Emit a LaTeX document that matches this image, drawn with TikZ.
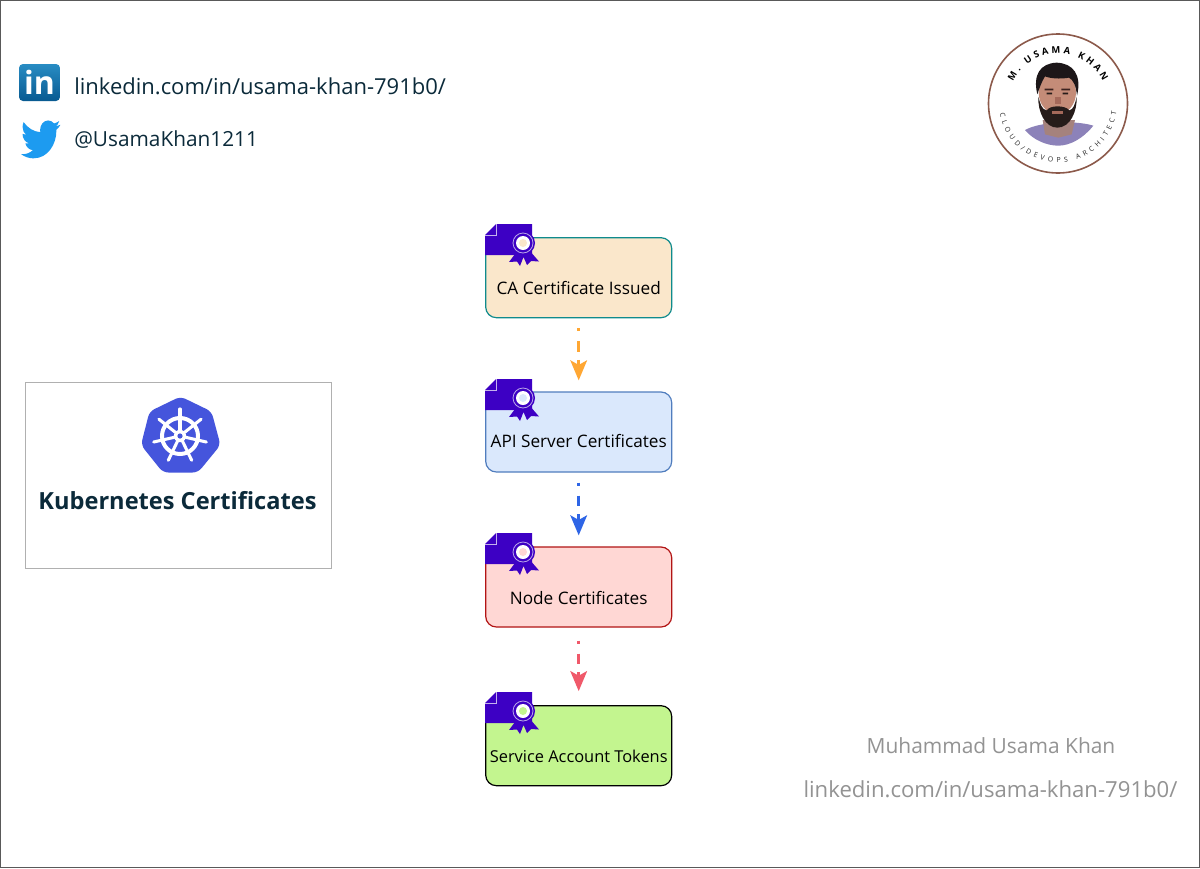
\documentclass[tikz,border=0pt]{standalone}
\usepackage{fontspec}
\setmainfont{Open Sans}
\usetikzlibrary{arrows.meta,decorations.text,positioning}
\definecolor{cert}{HTML}{3D00C4}
\definecolor{certline}{HTML}{B9A6E8}
\definecolor{kblue}{HTML}{4555DC}
\definecolor{twit}{HTML}{1D9BF0}
\definecolor{peach}{HTML}{FAE7CB}
\definecolor{sky}{HTML}{DAE8FC}
\definecolor{rose}{HTML}{FFD7D4}
\definecolor{lime}{HTML}{C3F58F}
\definecolor{ink}{HTML}{0B2A3A}
\definecolor{lnkup}{RGB}{40,140,195}
\definecolor{lnkdn}{RGB}{8,90,145}
\definecolor{brownring}{RGB}{140,90,75}
\definecolor{shirt}{RGB}{140,130,185}
\definecolor{neck}{RGB}{165,130,125}
\definecolor{skin}{RGB}{196,140,120}
\definecolor{beard}{RGB}{38,28,26}
\definecolor{hair}{RGB}{28,22,24}
\definecolor{brow}{RGB}{60,35,32}
\definecolor{nose}{RGB}{165,105,90}
\definecolor{panelgray}{RGB}{176,176,176}
\definecolor{teal1}{RGB}{15,139,141}
\definecolor{blue1}{RGB}{80,125,190}
\definecolor{red1}{RGB}{178,20,20}
\definecolor{arrO}{RGB}{255,167,51}
\definecolor{arrB}{RGB}{46,101,230}
\definecolor{arrR}{RGB}{240,89,106}
\tikzset{
  x=0.75pt,y=-0.75pt,
  box/.style={draw,line width=0.9pt,rounded corners=8pt,minimum width=139.5pt,minimum height=60pt,inner sep=0pt,font=\fontsize{12.9}{15}\selectfont},
  conn/.style={line width=2pt,dash pattern=on 2.25pt off 7.5pt on 8pt off 6pt on 30pt off 1pt,-{Stealth[length=15pt,width=12.5pt,inset=3.5pt]}},
  pics/certicon/.style={code={
    \fill[cert] (0,11) -- (11,0) -- (47,0) -- (47,31) -- (0,31) -- cycle;
    \draw[white!70!cert,line width=.5pt] (0,11.5) -- (11.5,11.5) -- (11.5,0);
    \fill[cert] (33,26) -- (24,38) -- (32,37.5) -- (35,42) -- (38.5,33) -- (42,41) -- (46,37) -- (54,37.5) -- (44,26) -- cycle;
    \fill[cert] (38,19) circle[radius=12];
    \draw[certline,line width=.6pt] (38,19) circle[radius=10];
    \fill[white] (38,19) circle[radius=7];
    \fill[#1] (38,19) circle[radius=4];
  }},
  big/.style={font=\fontsize{16.5}{20}\selectfont,inner sep=0pt},
  foot/.style={inner sep=0pt,text=gray!85!white},
}
\begin{document}
\begin{tikzpicture}
\useasboundingbox (0,0) rectangle (1200,868);
\fill[white] (0,0) rectangle (1200,868);
\draw[line width=1pt,black!65] (0.5,0.5) rectangle (1199.5,867.5);

% linkedin badge
\shade[top color=lnkup,bottom color=lnkdn,rounded corners=3pt] (19,64) rectangle (60,101);
\node[inner sep=0pt,text=white,font=\bfseries\fontsize{24}{26}\selectfont] (inbadge) at (39.5,82) {in};
\node[big,anchor=west,text=ink] (lnk) at (74,86) {linkedin.com/in/usama-khan-791b0/};

% twitter bird
\begin{scope}[shift={(21,116)},x=1.23pt,y=-1.46pt]
\fill[twit] (23.95,4.57) .. controls (23.1,4.95) and (22.1,5.2) .. (21.13,5.35)
 .. controls (22.1,4.8) and (22.9,3.8) .. (23.29,2.62)
 .. controls (22.34,3.175) and (21.285,3.58) .. (20.164,3.804)
 .. controls (19.2,2.9) and (17.9,2.28) .. (16.57,2.28)
 .. controls (13.85,2.28) and (11.65,4.48) .. (11.65,7.2)
 .. controls (11.65,7.57) and (11.69,7.93) .. (11.78,8.29)
 .. controls (7.69,8.095) and (4.067,6.13) .. (1.64,3.162)
 .. controls (1.22,3.88) and (0.974,4.73) .. (0.974,5.637)
 .. controls (0.974,7.347) and (1.844,8.85) .. (3.162,9.733)
 .. controls (2.36,9.71) and (1.6,9.49) .. (0.934,9.117)
 -- (0.934,9.177)
 .. controls (0.934,11.56) and (2.63,13.55) .. (4.88,14.004)
 .. controls (4.16,14.15) and (3.41,14.2) .. (2.668,14.089)
 .. controls (3.29,16.04) and (5.1,17.46) .. (7.272,17.506)
 .. controls (5.6,18.83) and (3.5,19.61) .. (1.17,19.611)
 .. controls (0.78,19.61) and (0.39,19.59) .. (0,19.544)
 .. controls (2.2,20.96) and (4.8,21.75) .. (7.557,21.753)
 .. controls (16.61,21.753) and (21.555,14.257) .. (21.555,7.768)
 .. controls (21.555,7.558) and (21.555,7.348) .. (21.54,7.138)
 .. controls (22.5,6.44) and (23.34,5.57) .. (24,4.59) -- cycle;
\end{scope}
\node[inner sep=0pt,font=\fontsize{15.6}{20}\selectfont,anchor=west,text=ink] (twh) at (74,139.5) {@UsamaKhan1211};

% round portrait
\fill[white] (1058,103.5) circle[radius=69.5];
\draw[line width=1.2pt,brownring] (1058,103.5) circle[radius=69.5];
\begin{scope}[shift={(1020,55)},x=.25pt,y=-.25pt]
\fill[shirt] (15,225) .. controls (60,200) and (165,195) .. (220,212) .. controls (190,250) and (150,272) .. (115,272) .. controls (80,272) and (40,255) .. (15,225) -- cycle;
\fill[neck] (68,195) -- (165,195) -- (155,238) -- (115,248) -- (75,238) -- cycle;
\fill[skin] (112,112) ellipse[x radius=56,y radius=66];
\fill[beard] (55,125) .. controls (60,145) and (66,165) .. (80,166) .. controls (90,150) and (135,150) .. (148,166) .. controls (160,165) and (166,145) .. (170,125) .. controls (172,170) and (150,218) .. (112,218) .. controls (75,218) and (53,170) .. (55,125) -- cycle;
\fill[nose] (96,168) rectangle (130,176);
\fill[hair] (52,118) .. controls (38,60) and (60,25) .. (110,23) .. controls (160,25) and (186,60) .. (171,122) .. controls (168,92) and (160,75) .. (147,68) .. controls (120,73) and (88,70) .. (75,64) .. controls (65,80) and (58,100) .. (52,118) -- cycle;
\fill[brow] (74,101) rectangle (100,106) (124,101) rectangle (150,106);
\fill[beard] (80,113) rectangle (96,118) (128,113) rectangle (144,118);
\fill[nose] (104,125) rectangle (122,146);
\end{scope}
\path[postaction={decorate,decoration={text along path,text align={fit to path},
  text={|\bfseries\fontsize{7}{9}\selectfont\color{black}|M. USAMA KHAN}}}]
  (1058,103.5) ++(206:50) arc[start angle=206,end angle=334,radius=50];
\path[postaction={decorate,decoration={text along path,text align={fit to path},
  text={|\fontsize{5.2}{7}\selectfont\color{black!85}|CLOUD/DEVOPS ARCHITECT}}}]
  (1058,103.5) ++(170:59) arc[start angle=170,end angle=8,radius=59];

% kubernetes panel
\node[draw=panelgray,line width=.8pt,minimum width=229.5pt,minimum height=139.5pt,inner sep=0pt] (panel) at (178.5,475.7) {};
\fill[kblue,rounded corners=4pt] (180.5,396.5)
 -- (211.5,411.5) -- (220.5,445) -- (198,472.5) -- (163,472.5) -- (141,445) -- (149.5,411.5) -- cycle;
\begin{scope}[shift={(180,436)}]
\draw[white,line width=3pt] (0,0) circle[radius=18];
\foreach \a in {270,321.43,372.86,424.29,475.71,527.14,578.57}{
  \draw[white,line width=2.3pt,line cap=round] (\a:6) -- (\a:27);
}
\fill[white] (0,0) circle[radius=6.2];
\fill[kblue] (0,0) circle[radius=2.6];
\end{scope}
\node[inner sep=0pt,text=ink,font=\bfseries\fontsize{17.7}{21}\selectfont] (ktitle) at (177.5,501) {Kubernetes Certificates};

% certificates
\node[box,fill=peach,draw=teal1] (b1) at (578.7,277.7) {\raisebox{-25.9pt}{CA Certificate Issued}};
\node[box,fill=sky,draw=blue1] (b2) at (578.7,432) {\raisebox{-22.8pt}{API Server Certificates}};
\node[box,fill=rose,draw=red1] (b3) at (578.7,587) {\raisebox{-26.8pt}{Node Certificates}};
\node[box,fill=lime,draw=black,font=\fontsize{12.3}{15}\selectfont] (b4) at (578.7,745.7) {\raisebox{-25.3pt}{Service Account Tokens}};
\pic at (485,224) {certicon=peach};
\pic at (485,379) {certicon=sky};
\pic at (485,533) {certicon=rose};
\pic at (485,692) {certicon=lime};

\draw[conn,color=arrO,shorten <=7.5pt,shorten >=8.3pt] (b1.south) -- (b2.north);
\draw[conn,color=arrB,shorten <=7.5pt,shorten >=8.3pt] (b2.south) -- (b3.north);
\draw[conn,color=arrR,shorten <=9.7pt,shorten >=10.5pt] (b3.south) -- (b4.north);

\node[foot,font=\fontsize{15.7}{20}\selectfont] (fn) at (991,746) {Muhammad Usama Khan};
\node[foot,font=\fontsize{16.6}{20}\selectfont] (fl) at (990.5,789) {linkedin.com/in/usama-khan-791b0/};
\end{tikzpicture}
\end{document}
